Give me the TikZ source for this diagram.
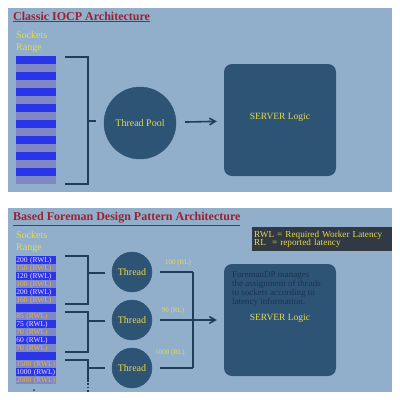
\documentclass[tikz,border=0pt]{standalone}
\usepackage{fontspec}
\setmainfont{Liberation Serif}
\usetikzlibrary{arrows}
\definecolor{PanelBlue}{HTML}{91AFCB}
\definecolor{BoxNavy}{HTML}{2E5475}
\definecolor{WireNavy}{HTML}{1F3D5C}
\definecolor{StripeBlue}{HTML}{2B35E8}
\definecolor{StripeGray}{HTML}{8088C4}
\definecolor{LabelYellow}{HTML}{E6DA4A}
\definecolor{TitleRed}{HTML}{9E1F2E}
\definecolor{LegendFill}{HTML}{313945}
\definecolor{NoteInk}{HTML}{1B3350}
\definecolor{RowLight}{HTML}{E4E4FF}
\definecolor{RowOrange}{HTML}{EDB43C}
\tikzset{
  BaseText/.style = {inner sep=0pt, align=left},
  TitleText/.style = {BaseText, anchor=west, text=TitleRed, font=\bfseries\fontsize{12}{12}\selectfont},
  RangeText/.style = {BaseText, anchor=north west, text=LabelYellow, font=\fontsize{10}{12}\selectfont},
  BlueRow/.style = {rectangle, fill=StripeBlue, minimum width=40pt, minimum height=8pt, text width=39.5pt, inner xsep=0.25pt, inner ysep=0pt, anchor=north west, align=left, text=RowLight, font=\fontsize{7.5}{7.5}\selectfont},
  GrayRow/.style = {BlueRow, fill=StripeGray, text=RowOrange},
  WireLine/.style = {draw=WireNavy, line width=1.6pt},
  ThreadNode/.style = {circle, fill=BoxNavy, draw=BoxNavy, inner sep=0pt, text=LabelYellow, font=\fontsize{10}{10}\selectfont},
  ServerNode/.style = {rectangle, rounded corners=8pt, fill=BoxNavy, minimum width=112pt, minimum height=112pt, inner sep=0pt},
  LogicText/.style = {BaseText, text=LabelYellow, font=\fontsize{9.5}{10}\selectfont},
  LatencyText/.style = {BaseText, text=LabelYellow, font=\fontsize{7}{7}\selectfont},
  NoteText/.style = {BaseText, anchor=north west, text=NoteInk, font=\fontsize{9}{7.6}\selectfont},
  LegendBox/.style = {rectangle, fill=LegendFill, anchor=north west, minimum width=140pt, minimum height=24pt, text width=136pt, inner xsep=2pt, inner ysep=2pt, align=left, text=LabelYellow, font=\fontsize{9.2}{8.5}\selectfont},
}
\begin{document}
\begin{tikzpicture}[x=1pt, y=-1pt, >=angle 60]
    \useasboundingbox[fill=white] (0,0) rectangle (400,400);
    % panels
    \fill[PanelBlue] (8,8) rectangle (392,192);
    \fill[PanelBlue] (8,208) rectangle (392,392);

    % classic IOCP
    \node[TitleText] (ClassicTitle) at (13,17) {\underline{Classic IOCP Architecture}};
    \node[RangeText] (ClassicRange) at (16,31) {Sockets\\Range};
    \foreach \i in {0,...,7} {
        \node[BlueRow] (TopBlue\i) at (16,56+16*\i) {};
        \node[GrayRow] (TopGray\i) at (16,64+16*\i) {};
    }
    \coordinate (TopBrA) at (65,57);
    \coordinate (TopBrB) at (88,57);
    \coordinate (TopBrC) at (88,184);
    \coordinate (TopBrD) at (65,184);
    \coordinate (TopTick) at (96,121);
    \draw[WireLine] (TopBrA) -- (TopBrB) -- (TopBrC) -- (TopBrD);
    \draw[WireLine] (88,121) -- (TopTick);
    \node[ThreadNode, minimum size=72pt] (ThreadPool) at (140,123) {Thread Pool};
    \node[ServerNode] (ServerTop) at (280,120) {};
    \node[LogicText] (ServerTopLabel) at (280,117) {SERVER Logic};
    \draw[WireLine, ->] (ThreadPool) -- (ServerTop) [shorten <=9pt, shorten >=7pt];

    % foreman design pattern
    \node[TitleText] (ForemanTitle) at (13,219) {\underline{Based Foreman Design Pattern Architecture}};
    \node[RangeText] (ForemanRange) at (16,231) {Sockets\\Range};
    \node[LegendBox] (Legend) at (252,227) {RWL = Required Worker Latency\\RL\ \ = reported latency};
    \foreach \lbl [count=\i from 0] in {200 (RWL),120 (RWL),200 (RWL),{},75 (RWL),60 (RWL),{},1000 (RWL)}
        \node[BlueRow] (FdBlue\i) at (16,256+16*\i) {\lbl};
    \foreach \lbl [count=\i from 0] in {150 (RWL),100 (RWL),160 (RWL),85 (RWL),70 (RWL),70 (RWL),1500 (RWL),2000 (RWL)}
        \node[GrayRow] (FdGray\i) at (16,264+16*\i) {\lbl};
    \fill[WireNavy] (34,390) circle (1pt);

    \draw[WireLine] (65,256) -- (88,256) -- (88,304) -- (65,304);
    \draw[WireLine] (88,273) -- (105,273);
    \draw[WireLine] (65,312) -- (88,312) -- (88,352) -- (65,352);
    \draw[WireLine] (88,321) -- (105,321);
    \draw[WireLine] (65,360) -- (88,360) -- (88,382);
    \draw[WireLine] (88,368) -- (105,368);
    \draw[WireNavy, line width=1.6pt, dotted] (88,383) -- (88,392);

    \node[ThreadNode, minimum size=40pt] (ThreadA) at (132,272) {Thread};
    \node[ThreadNode, minimum size=40pt] (ThreadB) at (132,320) {Thread};
    \node[ThreadNode, minimum size=40pt] (ThreadC) at (132,368) {Thread};
    \node[LatencyText] (LatA) at (178,263) {100 (RL)};
    \node[LatencyText] (LatB) at (173,311) {90 (RL)};
    \node[LatencyText] (LatC) at (170,353) {1000 (RL)};

    \node[ServerNode] (ServerBottom) at (280,320) {};
    \node[NoteText] (ServerNote) at (232,271) {ForemanDP manages\\the assignment of theads\\to sockets according to\\latency information.};
    \node[LogicText] (ServerBottomLabel) at (280,318) {SERVER Logic};

    \coordinate (JoinTop) at (193,272);
    \coordinate (JoinBot) at (193,368);
    \draw[WireLine] (ThreadA) -- (JoinTop) [shorten <=8pt];
    \draw[WireLine] (ThreadC) -- (JoinBot) [shorten <=8pt];
    \draw[WireLine] (JoinTop) -- (JoinBot);
    \draw[WireLine, ->] (ThreadB) -- (ServerBottom) [shorten <=8pt, shorten >=7pt];
\end{tikzpicture}
\end{document}
